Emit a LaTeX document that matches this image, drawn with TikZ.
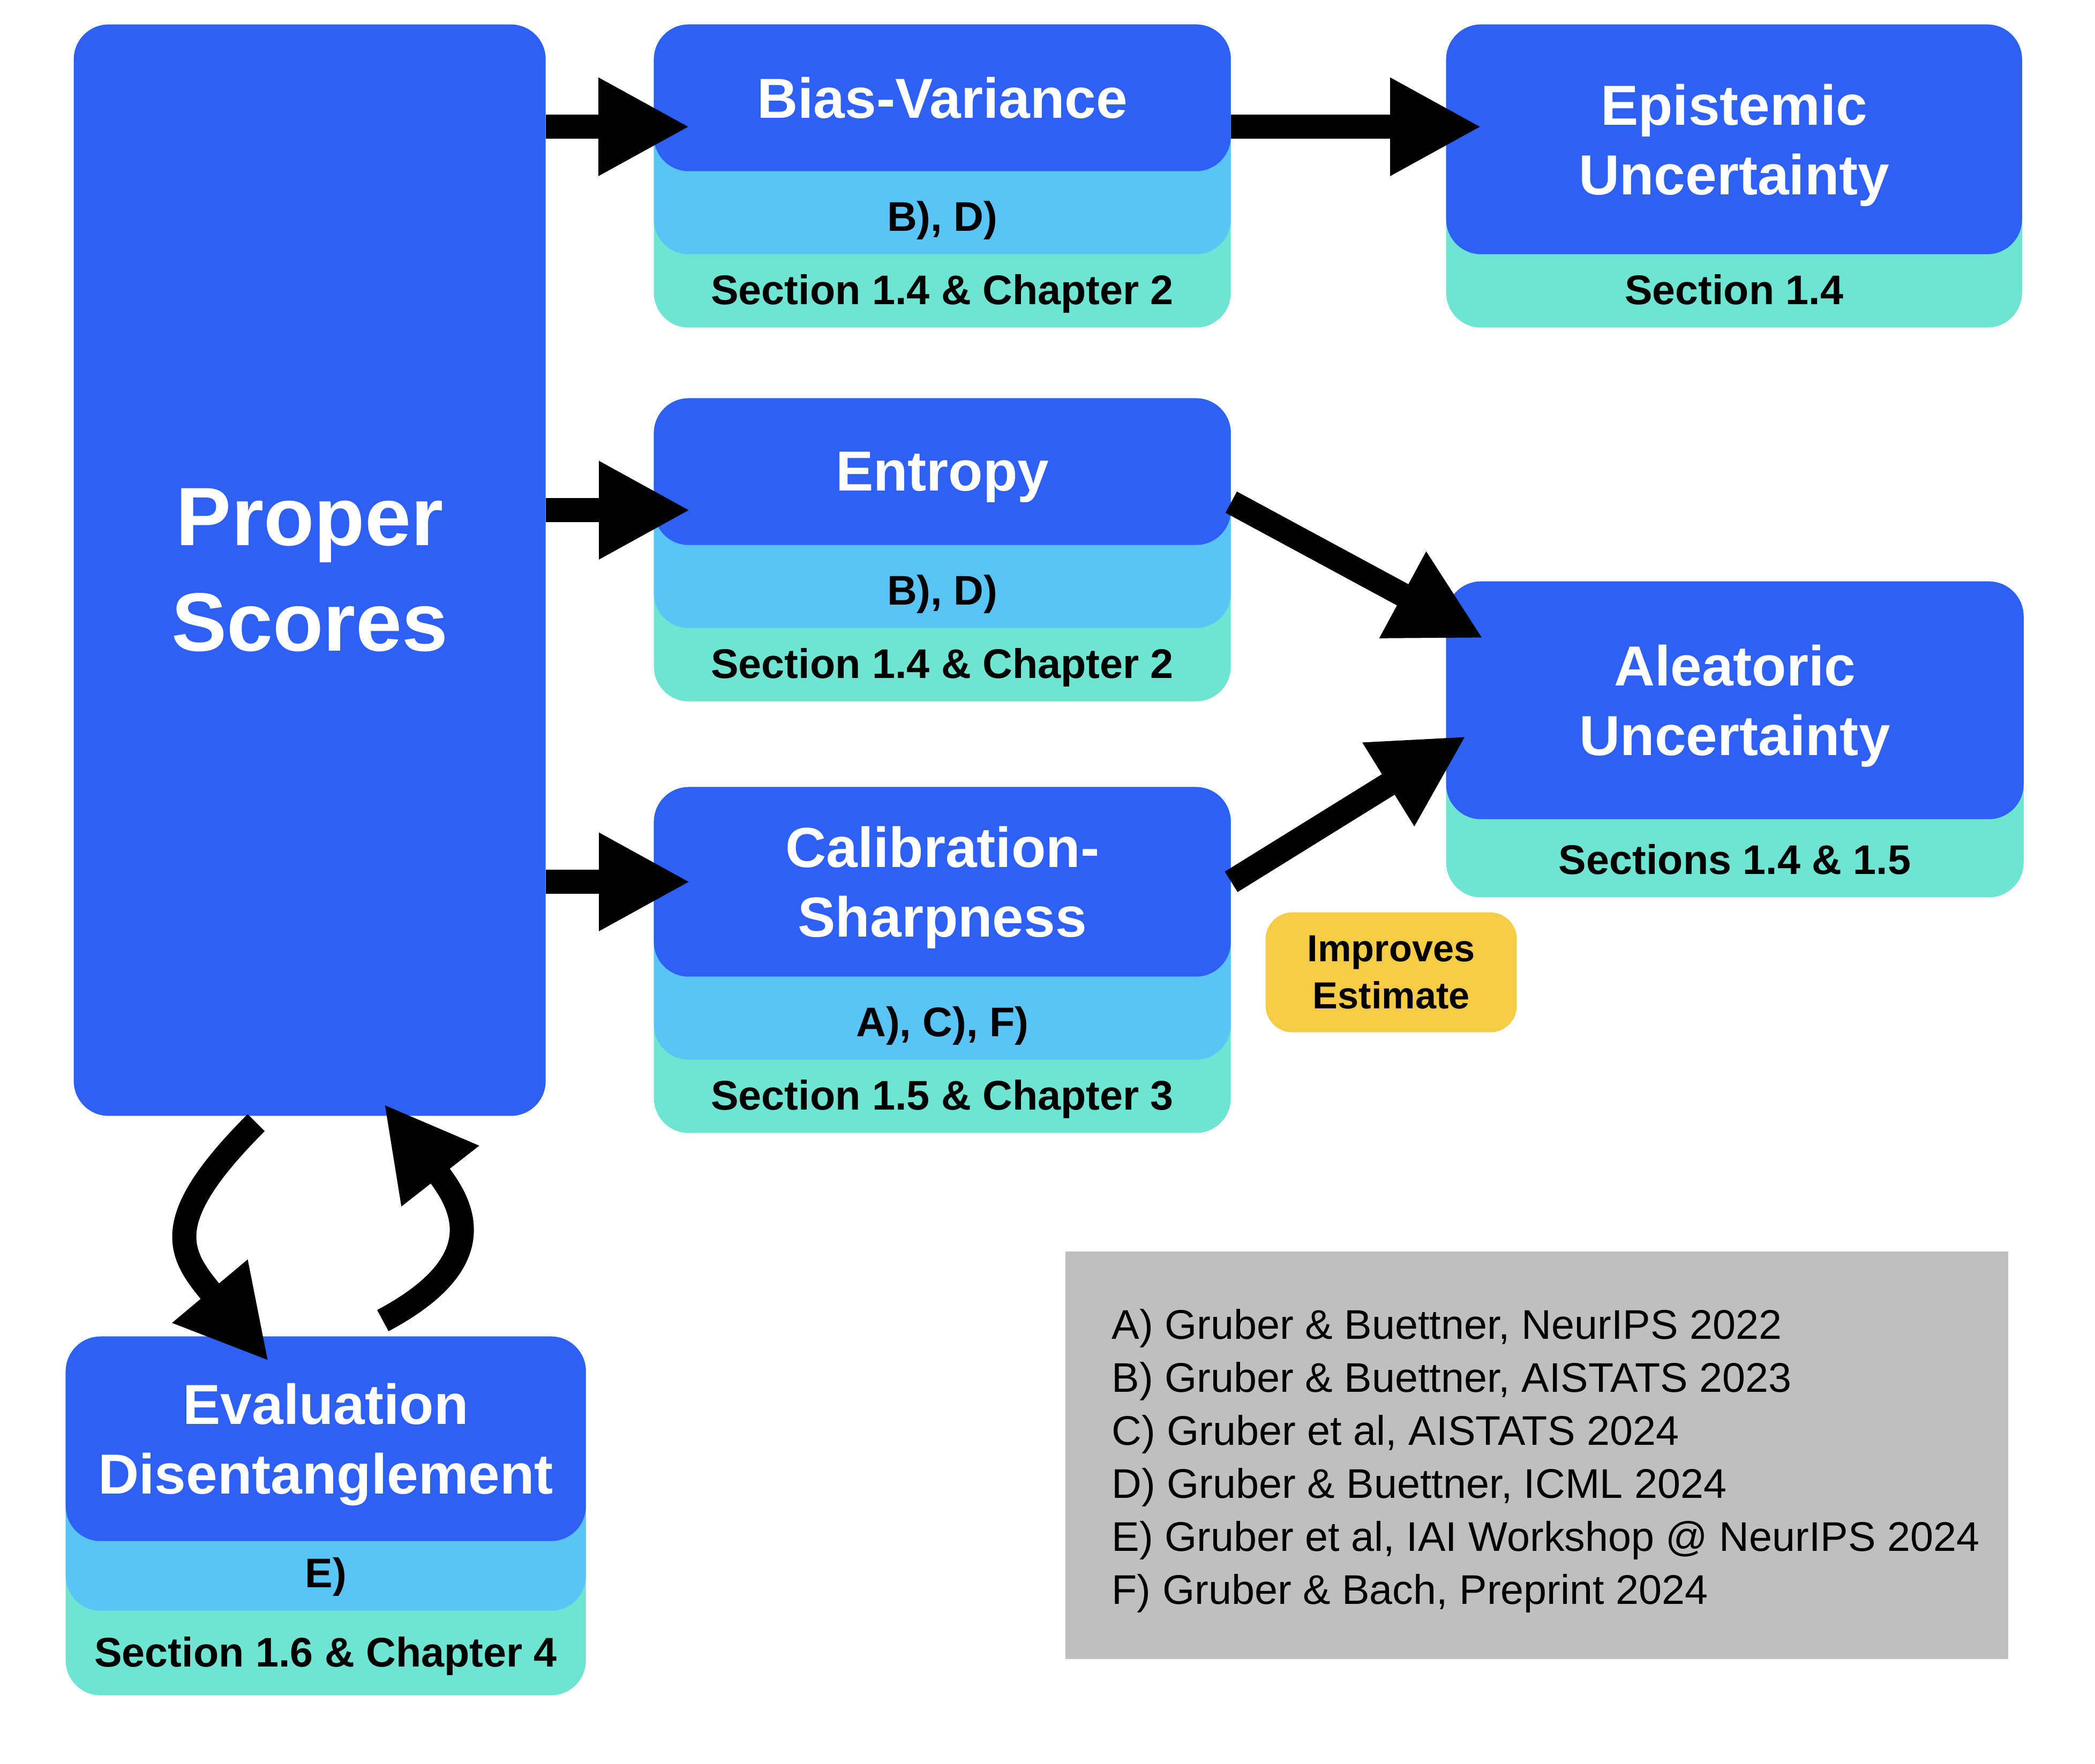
\documentclass[tikz,border=0pt]{standalone}
\usepackage{fontspec}
\setmainfont{Liberation Sans}
\usetikzlibrary{arrows.meta}

\definecolor{scoreblue}{HTML}{2E60F6}
\definecolor{refsky}{HTML}{5BC4F7}
\definecolor{secteal}{HTML}{6EE4D1}
\definecolor{noteyellow}{HTML}{F5CC45}
\definecolor{litgray}{HTML}{BFBFBF}

\begin{document}
\begin{tikzpicture}[
    card/.style={rectangle, rounded corners=0.65cm, inner sep=0pt, anchor=north west},
    boxtitle/.style={text=white, align=center, text depth=0pt, font=\bfseries\fontsize{30}{37}\selectfont},
    boxtag/.style={text=black, font=\bfseries\fontsize{22}{26}\selectfont, text height=0.56cm, text depth=0pt, inner sep=0pt},
    fat arrow/.style={line width=0.45cm, -{Triangle[length=1.71cm, width=1.71cm]}}
]
    \path[use as bounding box] (0,0) rectangle (39.11,-32.94);

    % Proper scores
    \node[card, fill=scoreblue, minimum width=8.81cm, minimum height=20.38cm, text=white, align=center, font=\bfseries\fontsize{44}{56}\selectfont] (ps) at (1.37,-0.45) {Proper\\Scores};

    % Bias-Variance
    \node[card, fill=secteal, minimum width=10.77cm, minimum height=5.66cm] (bvbase) at (12.20,-0.45) {};
    \node[card, fill=refsky, minimum width=10.77cm, minimum height=4.29cm] (bvmid) at (12.20,-0.45) {};
    \node[card, fill=scoreblue, minimum width=10.77cm, minimum height=2.74cm, boxtitle] (bv) at (12.20,-0.45) {Bias-Variance};
    \node[boxtag] (bvref) at ([yshift=0.72cm]bvmid.south) {B), D)};
    \node[boxtag] (bvsec) at ([yshift=0.72cm]bvbase.south) {Section 1.4 \& Chapter 2};

    % Entropy
    \node[card, fill=secteal, minimum width=10.77cm, minimum height=5.66cm] (enbase) at (12.20,-7.43) {};
    \node[card, fill=refsky, minimum width=10.77cm, minimum height=4.29cm] (enmid) at (12.20,-7.43) {};
    \node[card, fill=scoreblue, minimum width=10.77cm, minimum height=2.74cm, boxtitle] (en) at (12.20,-7.43) {Entropy};
    \node[boxtag] (enref) at ([yshift=0.72cm]enmid.south) {B), D)};
    \node[boxtag] (ensec) at ([yshift=0.72cm]enbase.south) {Section 1.4 \& Chapter 2};

    % Calibration-Sharpness
    \node[card, fill=secteal, minimum width=10.77cm, minimum height=6.46cm] (calbase) at (12.20,-14.69) {};
    \node[card, fill=refsky, minimum width=10.77cm, minimum height=5.09cm] (calmid) at (12.20,-14.69) {};
    \node[card, fill=scoreblue, minimum width=10.77cm, minimum height=3.54cm, boxtitle] (cal) at (12.20,-14.69) {Calibration-\\Sharpness};
    \node[boxtag] (calref) at ([yshift=0.72cm]calmid.south) {A), C), F)};
    \node[boxtag] (calsec) at ([yshift=0.72cm]calbase.south) {Section 1.5 \& Chapter 3};

    % Epistemic and aleatoric
    \node[card, fill=secteal, minimum width=10.75cm, minimum height=5.66cm] (epbase) at (26.99,-0.45) {};
    \node[card, fill=scoreblue, minimum width=10.75cm, minimum height=4.29cm, boxtitle] (ep) at (26.99,-0.45) {Epistemic\\Uncertainty};
    \node[boxtag] (epsec) at ([yshift=0.72cm]epbase.south) {Section 1.4};

    \node[card, fill=secteal, minimum width=10.78cm, minimum height=5.90cm] (albase) at (26.99,-10.85) {};
    \node[card, fill=scoreblue, minimum width=10.78cm, minimum height=4.44cm, boxtitle] (al) at (26.99,-10.85) {Aleatoric\\Uncertainty};
    \node[boxtag] (alsec) at ([yshift=0.72cm]albase.south) {Sections 1.4 \& 1.5};

    % Evaluation
    \node[card, fill=secteal, minimum width=9.71cm, minimum height=6.70cm] (evbase) at (1.22,-24.95) {};
    \node[card, fill=refsky, minimum width=9.71cm, minimum height=5.12cm] (evmid) at (1.22,-24.95) {};
    \node[card, fill=scoreblue, minimum width=9.71cm, minimum height=3.82cm, boxtitle] (ev) at (1.22,-24.95) {Evaluation\\Disentanglement};
    \node[boxtag] (evref) at ([yshift=0.72cm]evmid.south) {E)};
    \node[boxtag] (evsec) at ([yshift=0.82cm]evbase.south) {Section 1.6 \& Chapter 4};

    % Note and references
    \node[rectangle, rounded corners=0.5cm, fill=noteyellow, minimum width=4.69cm, minimum height=2.24cm, anchor=north west, align=center, font=\bfseries\fontsize{20}{25}\selectfont] (note) at (23.62,-17.03) {Improves\\Estimate};

    \node[rectangle, fill=litgray, minimum width=17.60cm, minimum height=7.61cm, anchor=north west] (refs) at (19.88,-23.36) {};
    \node[anchor=west, align=left, inner sep=0pt, font=\fontsize{22}{28.2}\selectfont] (reflist) at (20.75,-27.28) {A) Gruber \& Buettner, NeurIPS 2022\\
        B) Gruber \& Buettner, AISTATS 2023\\
        C) Gruber et al, AISTATS 2024\\
        D) Gruber \& Buettner, ICML 2024\\
        E) Gruber et al, IAI Workshop @ NeurIPS 2024\\
        F) Gruber \& Bach, Preprint 2024};

    % Arrows
    \coordinate (bvtip) at ([shift={(0.68,-0.54)}]bv.west);
    \coordinate (entip) at ([shift={(0.69,-0.72)}]en.west);
    \coordinate (caltip) at ([shift={(0.69,0)}]cal.west);
    \draw[fat arrow] (ps.east |- bvtip) -- (bvtip);
    \draw[fat arrow] (ps.east |- entip) -- (entip);
    \draw[fat arrow] (ps.east |- caltip) -- (caltip);

    \coordinate (eptip) at ([shift={(0.67,0.235)}]ep.west);
    \draw[fat arrow] (bv.east |- eptip) -- (eptip);

    \coordinate (altop) at ([shift={(0.70,-1.07)}]al.north west);
    \coordinate (albot) at ([shift={(0.38,-0.67)}]al.west);
    \draw[fat arrow] ([yshift=-0.57cm]en.east) -- (altop);
    \draw[fat arrow] (cal.east) -- (albot);

    % Loop between scores and evaluation
    \coordinate (lcstart) at ([shift={(-1.0,-0.12)}]ps.south);
    \coordinate (lctip) at ([shift={(-1.065,-0.47)}]ev.north);
    \coordinate (rcstart) at ([shift={(1.065,0.29)}]ev.north);
    \coordinate (rctip) at ([shift={(1.385,0.23)}]ps.south);
    \draw[fat arrow] (lcstart) to[out=225, in=130, looseness=1.5] (lctip);
    \draw[fat arrow] (rcstart) to[out=28, in=-52, looseness=1.5] (rctip);
\end{tikzpicture}
\end{document}
